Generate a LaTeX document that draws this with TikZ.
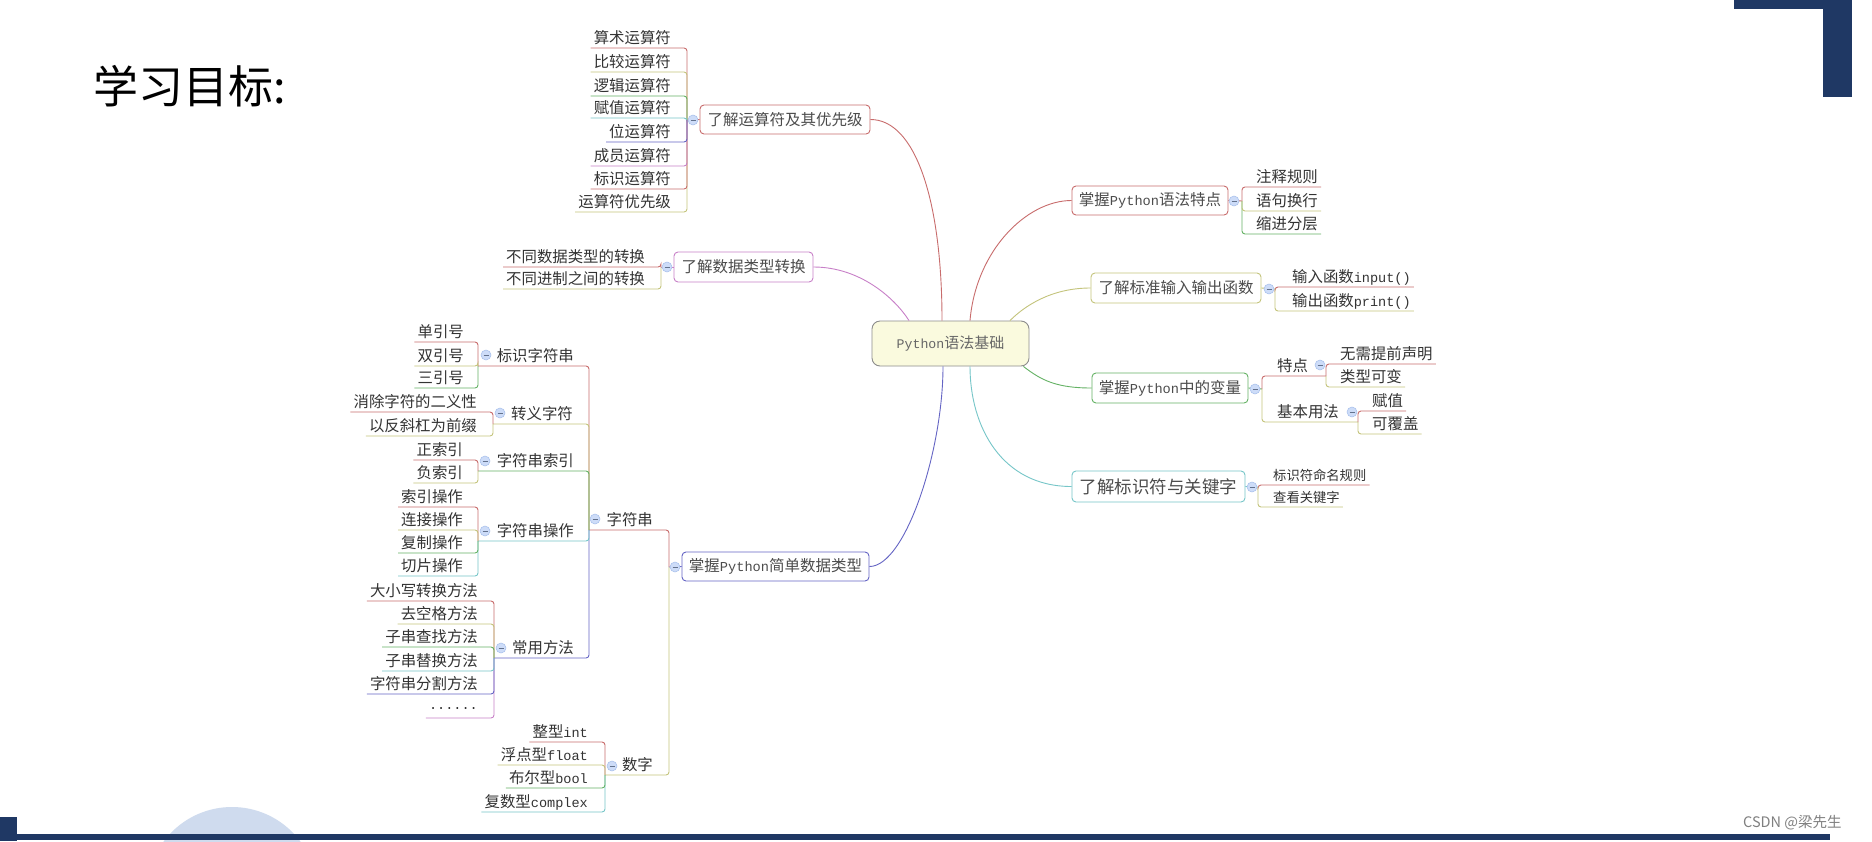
\documentclass[tikz,border=0pt]{standalone}
\usepackage{fontspec}
\setmainfont{Noto Sans CJK SC}
\newfontfamily\latmono[Scale=0.88]{Liberation Mono}
\newcommand\pl[1]{{\latmono #1}}
\definecolor{cR}{RGB}{200,108,108}
\definecolor{cO}{RGB}{196,196,124}
\definecolor{cG}{RGB}{100,178,100}
\definecolor{cT}{RGB}{118,198,200}
\definecolor{cB}{RGB}{100,100,196}
\definecolor{cM}{RGB}{200,128,200}
\definecolor{navy}{RGB}{31,56,100}
\definecolor{lblue}{RGB}{207,219,238}
\definecolor{btnfill}{RGB}{205,220,248}
\definecolor{btndraw}{RGB}{165,190,235}
\definecolor{rootfill}{RGB}{250,250,222}
\tikzset{
 lf/.style={inner xsep=3pt, inner ysep=0pt, text height=11pt, text depth=4.5pt, font=\fontsize{15.4}{16}\selectfont, text=black!80},
 lfs/.style={lf, font=\fontsize{13.3}{14}\selectfont, text height=10pt, text depth=4pt},
 mbox/.style={draw, rounded corners=4pt, line width=0.9pt, fill=white, inner sep=2pt, font=\fontsize{15.5}{16}\selectfont, text=black!70},
 btn/.style={circle, minimum size=10pt, inner sep=0pt, fill=btnfill, draw=btndraw, line width=0.5pt,
   path picture={\draw[btndraw!60!black, line width=0.6pt] ([xshift=-2.5pt]path picture bounding box.center) -- ([xshift=2.5pt]path picture bounding box.center);}},
 ln/.style={line width=0.9pt, rounded corners=3pt},
 cn/.style={line width=0.9pt},
}
\begin{document}
\begin{tikzpicture}[x=1pt,y=-1pt]
\useasboundingbox (0,0) rectangle (1872,841);
\fill[white] (0,0) rectangle (1872,841);
% decorations
\fill[lblue] (232,892) circle (85pt);
\fill[navy] (0,817) rectangle (17,841);
\fill[navy] (17,834) rectangle (1830,840);
\fill[navy] (1734,0) rectangle (1852,9);
\fill[navy] (1823,0) rectangle (1852,97);
\node[anchor=base west, inner sep=0pt, font=\fontsize{45}{45}\selectfont] (title) at (93,103) {学习目标:};
\node[anchor=west, inner sep=0pt, font=\fontsize{14.5}{15}\selectfont, text=black!50] (wm) at (1743,823) {CSDN @梁先生};

% root and main boxes
\node[draw=black!45, rounded corners=8pt, fill=rootfill, minimum width=157pt, minimum height=45pt, font=\fontsize{15}{16}\selectfont, text=black!60, line width=0.9pt] (root) at (950.5,343.5) {\pl{Python}语法基础};
\node[mbox, draw=cR, minimum width=170pt, minimum height=29pt] (op) at (785,119.5) {了解运算符及其优先级};
\node[mbox, draw=cM, minimum width=139pt, minimum height=30pt] (conv) at (743.5,267) {了解数据类型转换};
\node[mbox, draw=cB, minimum width=187pt, minimum height=29pt] (simple) at (775.5,566.5) {掌握\pl{Python}简单数据类型};
\node[mbox, draw=cR, minimum width=156pt, minimum height=29pt] (syn) at (1150,200.5) {掌握\pl{Python}语法特点};
\node[mbox, draw=cO, minimum width=170pt, minimum height=30pt] (io) at (1176,288) {了解标准输入输出函数};
\node[mbox, draw=cG, minimum width=156pt, minimum height=30pt] (var) at (1170,388) {掌握\pl{Python}中的变量};
\node[mbox, draw=cT, minimum width=173pt, minimum height=31pt, font=\fontsize{17.5}{18}\selectfont] (idf) at (1158.5,486.5) {了解标识符与关键字};

% root connectors
\draw[cn, cR] (op.east) .. controls +(45,0) and +(0,-120) .. ([xshift=-8.5pt]root.north);
\draw[cn, cM] (conv.east) .. controls +(47,0) and +(-14,-22) .. ([xshift=-41.5pt]root.north);
\draw[cn, cR] (syn.west) .. controls +(-45,0) and +(6,-70) .. ([xshift=19.5pt]root.north);
\draw[cn, cO] (io.west) .. controls +(-40,0) and +(14,-14) .. ([xshift=59.5pt]root.north);
\draw[cn, cG] (var.west) .. controls +(-35,0) and +(18,14) .. ([xshift=-6pt]root.south east);
\draw[cn, cT] (idf.west) .. controls +(-70,0) and +(0,60) .. ([xshift=19.5pt]root.south);
\draw[cn, cB] (simple.east) .. controls +(36,0) and +(0,84) .. ([xshift=-7.5pt]root.south);

% junctions
\coordinate (jOp) at (687,120);
\coordinate (jConv) at (661,267);
\coordinate (jSimple) at (669,567);
\coordinate (jSyn) at (1242,201);
\coordinate (jIo) at (1275,289);
\coordinate (jVar) at (1262,389);
\coordinate (jIdf) at (1258,487);
\coordinate (jStr) at (589,530);
\coordinate (jNum) at (605,775);
\coordinate (jBs) at (478,366);
\coordinate (jZy) at (493,424);
\coordinate (jSy) at (478,471);
\coordinate (jCz) at (478,541);
\coordinate (jCy) at (494,658);
\coordinate (jTe) at (1326,376);
\coordinate (jBy) at (1358,422);

\draw[cn, cR] (op.west) -- (jOp);
\draw[cn, cM] (conv.west) -- (jConv);
\draw[cn, cB] (simple.west) -- (jSimple);
\draw[cn, cR] (syn.east) -- (jSyn);
\draw[cn, cO] (io.east) -- (jIo);
\draw[cn, cG] (var.east) -- (jVar);
\draw[cn, cT] (idf.east) -- (jIdf);

% operators
\node[lf, anchor=south east] (o1) at (674,48) {算术运算符};
\node[lf, anchor=south east] (o2) at (674,72) {比较运算符};
\node[lf, anchor=south east] (o3) at (674,96) {逻辑运算符};
\node[lf, anchor=south east] (o4) at (674,118) {赋值运算符};
\node[lf, anchor=south east] (o5) at (674,142) {位运算符};
\node[lf, anchor=south east] (o6) at (674,166) {成员运算符};
\node[lf, anchor=south east] (o7) at (674,189) {标识运算符};
\node[lf, anchor=south east] (o8) at (674,212) {运算符优先级};
\draw[ln, cR] (jOp) |- (o1.south west);
\draw[ln, cO] (jOp) |- (o2.south west);
\draw[ln, cG] (jOp) |- (o3.south west);
\draw[ln, cT] (jOp) |- (o4.south west);
\draw[ln, cO] (jOp) |- (o8.south west);
\draw[ln, cR] (jOp) |- (o7.south west);
\draw[ln, cM] (jOp) |- (o6.south west);
\draw[ln, cB] (jOp) |- (o5.south west);

% conversion
\node[lf, anchor=south east] (v1) at (648,267) {不同数据类型的转换};
\node[lf, anchor=south east] (v2) at (648,289) {不同进制之间的转换};
\draw[ln, cO] (jConv) |- (v2.south west);
\draw[ln, cR] (jConv) |- (v1.south west);

% syntax features
\node[lf, anchor=south west] (s1) at (1253,187) {注释规则};
\node[lf, anchor=south west] (s2) at (1253,211) {语句换行};
\node[lf, anchor=south west] (s3) at (1253,234) {缩进分层};
\draw[ln, cR] (jSyn) |- (s1.south east);
\draw[ln, cG] (jSyn) |- (s3.south east);
\draw[ln, cO] (jSyn) |- (s2.south east);

% io
\node[lf, anchor=south west] (i1) at (1289,287) {输入函数\pl{input()}};
\node[lf, anchor=south west] (i2) at (1289,311) {输出函数\pl{print()}};
\draw[ln, cR] (jIo) |- (i1.south east);
\draw[ln, cO] (jIo) |- (i2.south east);

% variables
\node[lf, anchor=south west] (te) at (1274,376) {特点};
\node[lf, anchor=south west] (by) at (1274,422) {基本用法};
\draw[ln, cR] (jVar) |- (jTe);
\draw[ln, cO] (jVar) |- (jBy);
\node[lf, anchor=south west] (t1) at (1337,364) {无需提前声明};
\node[lf, anchor=south west] (t2) at (1337,387) {类型可变};
\draw[ln, cR] (jTe) |- (t1.south east);
\draw[ln, cO] (jTe) |- (t2.south east);
\node[lf, anchor=south west] (y1) at (1369,411) {赋值};
\node[lf, anchor=south west] (y2) at (1369,434) {可覆盖};
\draw[ln, cR] (jBy) |- (y1.south east);
\draw[ln, cO] (jBy) |- (y2.south east);

% identifiers
\node[lfs, anchor=south west] (d1) at (1270,485) {标识符命名规则};
\node[lfs, anchor=south west] (d2) at (1270,507) {查看关键字};
\draw[ln, cR] (jIdf) |- (d1.south east);
\draw[ln, cO] (jIdf) |- (d2.south east);

% simple data types
\node[lf, anchor=south east] (zfc) at (656,530) {字符串};
\node[lf, anchor=south east] (num) at (656,775) {数字};
\draw[ln, cR] (jSimple) |- (jStr);
\draw[ln, cO] (jSimple) |- (jNum);

\node[lf, anchor=south east] (bs) at (577,366) {标识字符串};
\node[lf, anchor=south east] (zy) at (576,424) {转义字符};
\node[lf, anchor=south east] (sy) at (577,471) {字符串索引};
\node[lf, anchor=south east] (cz) at (577,541) {字符串操作};
\node[lf, anchor=south east] (cy) at (577,658) {常用方法};
\draw[ln, cR] (jStr) |- (jBs);
\draw[ln, cO] (jStr) |- (jZy);
\draw[ln, cG] (jStr) |- (jSy);
\draw[ln, cB] (jStr) |- (jCy);
\draw[ln, cT] (jStr) |- (jCz);

\node[lf, anchor=south east] (bs1) at (467,342) {单引号};
\node[lf, anchor=south east] (bs2) at (467,366) {双引号};
\node[lf, anchor=south east] (bs3) at (467,388) {三引号};
\draw[ln, cR] (jBs) |- (bs1.south west);
\draw[ln, cG] (jBs) |- (bs3.south west);
\draw[ln, cO] (jBs) |- (bs2.south west);

\node[lf, anchor=south east] (zy1) at (480,412) {消除字符的二义性};
\node[lf, anchor=south east] (zy2) at (480,436) {以反斜杠为前缀};
\draw[ln, cR] (jZy) |- (zy1.south west);
\draw[ln, cO] (jZy) |- (zy2.south west);

\node[lf, anchor=south east] (sy1) at (466,460) {正索引};
\node[lf, anchor=south east] (sy2) at (466,483) {负索引};
\draw[ln, cR] (jSy) |- (sy1.south west);
\draw[ln, cO] (jSy) |- (sy2.south west);

\node[lf, anchor=south east] (cz1) at (466,507) {索引操作};
\node[lf, anchor=south east] (cz2) at (466,530) {连接操作};
\node[lf, anchor=south east] (cz3) at (466,553) {复制操作};
\node[lf, anchor=south east] (cz4) at (466,576) {切片操作};
\draw[ln, cR] (jCz) |- (cz1.south west);
\draw[ln, cO] (jCz) |- (cz2.south west);
\draw[ln, cT] (jCz) |- (cz4.south west);
\draw[ln, cG] (jCz) |- (cz3.south west);

\node[lf, anchor=south east] (cy1) at (481,601) {大小写转换方法};
\node[lf, anchor=south east] (cy2) at (481,624) {去空格方法};
\node[lf, anchor=south east] (cy3) at (481,647) {子串查找方法};
\node[lf, anchor=south east] (cy4) at (481,671) {子串替换方法};
\node[lf, anchor=south east] (cy5) at (481,694) {字符串分割方法};
\node[lf, anchor=south east] (cy6) at (481,718) {\raisebox{4pt}{\pl{......}}};
\draw[ln, cR] (jCy) |- (cy1.south west);
\draw[ln, cO] (jCy) |- (cy2.south west);
\draw[ln, cG] (jCy) |- (cy3.south west);
\draw[ln, cM] (jCy) |- (cy6.south west);
\draw[ln, cB] (jCy) |- (cy5.south west);
\draw[ln, cT] (jCy) |- (cy4.south west);

\node[lf, anchor=south east] (n1) at (591,742) {整型\pl{int}};
\node[lf, anchor=south east] (n2) at (591,765) {浮点型\pl{float}};
\node[lf, anchor=south east] (n3) at (591,788) {布尔型\pl{bool}};
\node[lf, anchor=south east] (n4) at (591,812) {复数型\pl{complex}};
\draw[ln, cR] (jNum) |- (n1.south west);
\draw[ln, cO] (jNum) |- (n2.south west);
\draw[ln, cT] (jNum) |- (n4.south west);
\draw[ln, cG] (jNum) |- (n3.south west);

% collapse buttons
\node[btn] (bOp) at (693,120) {};
\node[btn] (bConv) at (667,267) {};
\node[btn] (bSimple) at (675,567) {};
\node[btn] (bSyn) at (1234,201) {};
\node[btn] (bIo) at (1269,289) {};
\node[btn] (bVar) at (1255,389) {};
\node[btn] (bIdf) at (1252,487) {};
\node[btn] (bStr) at (595,519) {};
\node[btn] (bNum) at (612,766) {};
\node[btn] (bBs) at (486,355) {};
\node[btn] (bZy) at (500,413) {};
\node[btn] (bSy) at (485,461) {};
\node[btn] (bCz) at (485,531) {};
\node[btn] (bCy) at (501,648) {};
\node[btn] (bTe) at (1320,365) {};
\node[btn] (bBy) at (1352,412) {};
\end{tikzpicture}
\end{document}
